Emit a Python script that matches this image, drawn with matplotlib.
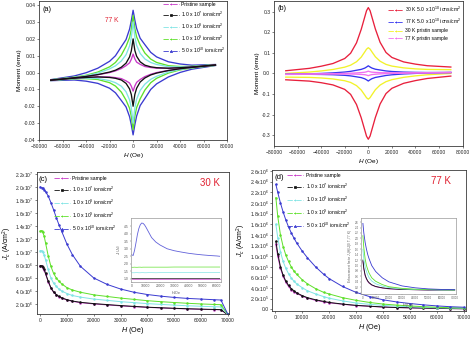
import matplotlib
matplotlib.use("Agg")
import matplotlib.pyplot as plt
from matplotlib.lines import Line2D

plt.rcParams['font.family'] = ['Liberation Sans', 'DejaVu Sans']
plt.rcParams['mathtext.fontset'] = 'custom'
plt.rcParams['mathtext.rm'] = 'Liberation Sans'
plt.rcParams['mathtext.it'] = 'Liberation Sans:italic'

# ---- hysteresis loops (a), (b) ----
H_loop = [-70000, -50000, -40000, -30000, -20000, -15000, -10000, -6000, -3000, -1500, 0,
          1500, 3000, 6000, 10000, 15000, 20000, 30000, 40000, 50000, 70000]

# 77 K
pr77_up = [-0.0045, -0.0031, -0.0023, -0.0013, 0.0000, 0.0010, 0.0024, 0.0041, 0.0058, 0.0079, 0.011,
           0.0081, 0.0062, 0.0049, 0.0036, 0.0030, 0.0026, 0.0025, 0.0029, 0.0033, 0.0045]
pr77_dn = [-0.0045, -0.0033, -0.0029, -0.0025, -0.0026, -0.0030, -0.0036, -0.0049, -0.0062, -0.0081, -0.011,
           -0.0079, -0.0058, -0.0041, -0.0024, -0.0010, 0.0000, 0.0013, 0.0023, 0.0031, 0.0045]
e7_up = [-0.0045, -0.0031, -0.0023, -0.0012, 0.0003, 0.0014, 0.0032, 0.0056, 0.0093, 0.0129, 0.020,
         0.0131, 0.0097, 0.0064, 0.0044, 0.0034, 0.0029, 0.0026, 0.0029, 0.0033, 0.0045]
e7_dn = [-0.0045, -0.0033, -0.0029, -0.0026, -0.0029, -0.0034, -0.0044, -0.0064, -0.0097, -0.0131, -0.020,
         -0.0129, -0.0093, -0.0056, -0.0032, -0.0014, -0.0003, 0.0012, 0.0023, 0.0031, 0.0045]
e8_up = [-0.0044, -0.0029, -0.0019, -0.0003, 0.0022, 0.0040, 0.0069, 0.0106, 0.0158, 0.0209, 0.030,
         0.0211, 0.0162, 0.0114, 0.0081, 0.0060, 0.0048, 0.0035, 0.0033, 0.0035, 0.0046]
e8_dn = [-0.0046, -0.0035, -0.0033, -0.0035, -0.0048, -0.0060, -0.0081, -0.0114, -0.0162, -0.0211, -0.030,
         -0.0209, -0.0158, -0.0106, -0.0069, -0.0040, -0.0022, 0.0003, 0.0019, 0.0029, 0.0044]
e9_up = [-0.0043, -0.0027, -0.0016, 0.0003, 0.0034, 0.0060, 0.0104, 0.0156, 0.0208, 0.0259, 0.034,
         0.0261, 0.0212, 0.0164, 0.0116, 0.0080, 0.0060, 0.0041, 0.0036, 0.0037, 0.0047]
e9_dn = [-0.0047, -0.0037, -0.0036, -0.0041, -0.0060, -0.0080, -0.0116, -0.0164, -0.0212, -0.0261, -0.034,
         -0.0259, -0.0208, -0.0156, -0.0104, -0.0060, -0.0034, -0.0003, 0.0016, 0.0027, 0.0043]
e10_up = [-0.0042, -0.0020, -0.0001, 0.0026, 0.0067, 0.0100, 0.0154, 0.0196, 0.0258, 0.0309, 0.037,
          0.0311, 0.0262, 0.0204, 0.0166, 0.0120, 0.0093, 0.0064, 0.0051, 0.0044, 0.0048]
e10_dn = [-0.0048, -0.0044, -0.0051, -0.0064, -0.0093, -0.0120, -0.0166, -0.0204, -0.0262, -0.0311, -0.037,
          -0.0309, -0.0258, -0.0196, -0.0154, -0.0100, -0.0067, -0.0026, 0.0001, 0.0020, 0.0042]

# 30 K
e10_30_up = [0.013, 0.0246, 0.0349, 0.0481, 0.0724, 0.0981, 0.1487, 0.2142, 0.2746, 0.3048, 0.32,
             0.3052, 0.2754, 0.2158, 0.1513, 0.1019, 0.0776, 0.0559, 0.0451, 0.0374, 0.031]
e10_30_dn = [-0.031, -0.0374, -0.0451, -0.0559, -0.0776, -0.1019, -0.1513, -0.2158, -0.2754, -0.3052, -0.32,
             -0.3048, -0.2746, -0.2142, -0.1487, -0.0981, -0.0724, -0.0481, -0.0349, -0.0246, -0.013]
pr30_up = [0.0, 0.0066, 0.0119, 0.0191, 0.0304, 0.0401, 0.0567, 0.0792, 0.1046, 0.1178, 0.125,
           0.1182, 0.1054, 0.0808, 0.0593, 0.0439, 0.0356, 0.0269, 0.0221, 0.0194, 0.018]
pr30_dn = [-0.018, -0.0194, -0.0221, -0.0269, -0.0356, -0.0439, -0.0593, -0.0808, -0.1054, -0.1182, -0.125,
           -0.1178, -0.1046, -0.0792, -0.0567, -0.0401, -0.0304, -0.0191, -0.0119, -0.0066, 0.0]

# ---- Jc(H), units of 1e6 A/cm^2 ----
H_c = [0, 500, 1000, 1500, 2000, 3000, 4000, 5000, 6000, 7000, 8000, 10000, 12000, 15000, 20000,
       25000, 30000, 35000, 40000, 45000, 50000, 55000, 60000, 65000, 67500, 70000]
jc30_pr = [7.8, 7.8, 7.6, 7.2, 6.6, 5.4, 4.4, 3.8, 3.4, 3.1, 2.9, 2.6, 2.4, 2.2, 2.0,
           1.85, 1.7, 1.58, 1.47, 1.38, 1.3, 1.23, 1.17, 1.12, 1.1, 0.35]
jc30_e7 = [7.9, 7.9, 7.7, 7.3, 6.7, 5.5, 4.5, 3.85, 3.45, 3.15, 2.95, 2.65, 2.45, 2.25, 2.05,
           1.9, 1.75, 1.62, 1.5, 1.41, 1.33, 1.26, 1.2, 1.15, 1.12, 0.35]
jc30_e8 = [10.2, 10.2, 10.0, 9.5, 8.8, 7.3, 6.0, 5.2, 4.7, 4.3, 4.0, 3.6, 3.3, 3.05, 2.75,
           2.55, 2.35, 2.2, 2.05, 1.93, 1.82, 1.72, 1.64, 1.57, 1.54, 0.4]
jc30_e9 = [13.2, 13.3, 13.0, 12.4, 11.4, 9.4, 7.8, 6.7, 6.0, 5.5, 5.1, 4.5, 4.15, 3.8, 3.4,
           3.15, 2.9, 2.7, 2.5, 2.35, 2.22, 2.1, 2.0, 1.92, 1.88, 0.45]
jc30_e10 = [20.0, 19.9, 19.8, 19.6, 19.3, 18.6, 17.6, 16.5, 15.3, 14.2, 13.2, 11.2, 9.6, 7.8, 6.0,
            5.0, 4.3, 3.8, 3.45, 3.2, 3.0, 2.85, 2.75, 2.65, 2.6, 0.5]

H_ci = [0, 1000, 2000, 3000, 4000, 5000, 6000, 7000, 8000, 9000, 10000, 12000, 14000, 17000,
        20000, 25000, 30000, 35000, 40000, 45000, 50000, 55000, 60000, 62000]
ratio_pr = [1.0, 1.0, 1.0, 1.0, 1.0, 1.0, 1.0, 1.0, 1.0, 1.0, 1.0, 1.0, 1.0, 1.0,
            1.0, 1.0, 1.0, 1.0, 1.0, 1.0, 1.0, 1.0, 1.0, 1.0]
ratio_e7 = [1.01, 1.01, 1.01, 1.01, 1.02, 1.01, 1.01, 1.01, 1.02, 1.01, 1.01, 1.01, 1.01, 1.01,
            1.01, 1.01, 1.01, 1.01, 1.01, 1.01, 1.01, 1.01, 1.01, 1.01]
ratio_e8 = [1.4, 1.4, 1.4, 1.41, 1.41, 1.4, 1.4, 1.41, 1.41, 1.4, 1.4, 1.41, 1.41, 1.4,
            1.41, 1.41, 1.41, 1.41, 1.41, 1.41, 1.42, 1.42, 1.42, 1.42]
ratio_e9 = [1.76, 1.76, 1.77, 1.76, 1.76, 1.77, 1.77, 1.76, 1.77, 1.77, 1.77, 1.77, 1.77, 1.77,
            1.77, 1.77, 1.78, 1.78, 1.78, 1.78, 1.78, 1.78, 1.78, 1.78]
ratio_e10 = [2.6, 2.55, 2.9, 3.4, 3.95, 4.35, 4.6, 4.72, 4.7, 4.6, 4.45, 4.1, 3.75, 3.45,
             3.25, 3.0, 2.87, 2.78, 2.7, 2.64, 2.59, 2.55, 2.52, 2.5]

H_d = [300, 1000, 2000, 3000, 4000, 5000, 6000, 7000, 8000, 10000, 12000, 15000, 18000, 20000,
       25000, 30000, 35000, 40000, 45000, 50000, 55000, 60000, 65000, 70000]
jc77_pr = [1.22, 1.0, 0.77, 0.62, 0.51, 0.43, 0.37, 0.33, 0.3, 0.25, 0.21, 0.17, 0.14, 0.125,
           0.095, 0.072, 0.057, 0.043, 0.034, 0.028, 0.023, 0.018, 0.014, 0.011]
jc77_e7 = [1.28, 1.05, 0.8, 0.64, 0.53, 0.45, 0.39, 0.35, 0.31, 0.26, 0.22, 0.18, 0.15, 0.13,
           0.1, 0.075, 0.06, 0.045, 0.035, 0.03, 0.025, 0.02, 0.015, 0.012]
jc77_e8 = [1.6, 1.35, 1.08, 0.9, 0.77, 0.67, 0.59, 0.53, 0.48, 0.41, 0.35, 0.29, 0.24, 0.21,
           0.16, 0.12, 0.095, 0.075, 0.06, 0.05, 0.04, 0.03, 0.025, 0.02]
jc77_e9 = [2.1, 1.75, 1.4, 1.18, 1.02, 0.9, 0.8, 0.72, 0.66, 0.56, 0.48, 0.39, 0.32, 0.29,
           0.22, 0.17, 0.13, 0.1, 0.08, 0.065, 0.05, 0.04, 0.03, 0.025]
jc77_e10 = [2.35, 2.2, 2.0, 1.83, 1.68, 1.55, 1.44, 1.34, 1.25, 1.1, 0.97, 0.8, 0.66, 0.58,
            0.43, 0.32, 0.24, 0.18, 0.14, 0.11, 0.085, 0.065, 0.05, 0.04]

H_di = [300, 1000, 2000, 3000, 4000, 5000, 7000, 10000, 15000, 20000, 30000, 40000, 50000, 60000, 70000]
enh_pr = [1.15, 0.86, 0.62, 0.5, 0.41, 0.35, 0.28, 0.22, 0.17, 0.14, 0.12, 0.11, 0.1, 0.1, 0.1]
enh_e7 = [1.2, 0.9, 0.65, 0.52, 0.43, 0.37, 0.29, 0.23, 0.18, 0.15, 0.12, 0.11, 0.1, 0.1, 0.1]
enh_e8 = [1.6, 1.25, 0.95, 0.78, 0.65, 0.55, 0.43, 0.33, 0.24, 0.19, 0.14, 0.12, 0.11, 0.1, 0.1]
enh_e9 = [2.1, 1.65, 1.25, 1.0, 0.85, 0.72, 0.55, 0.42, 0.3, 0.22, 0.16, 0.13, 0.12, 0.11, 0.1]
enh_e10 = [2.55, 2.2, 1.85, 1.6, 1.4, 1.25, 1.0, 0.78, 0.55, 0.4, 0.25, 0.18, 0.14, 0.12, 0.11]

labels_dose = ["Pristine sample", r"1.0 x 10$^{7}$ ions/cm$^{2}$", r"1.0 x 10$^{8}$ ions/cm$^{2}$",
               r"1.0 x 10$^{9}$ ions/cm$^{2}$", r"5.0 x 10$^{10}$ ions/cm$^{2}$"]
labels_b = [r"30 K 5.0 x 10$^{10}$ ions/cm$^{2}$", r"77 K 5.0 x 10$^{10}$ ions/cm$^{2}$",
            "30 K pristin sample", "77 K pristin sample"]

xt_loop = [-80000, -60000, -40000, -20000, 0, 20000, 40000, 60000, 80000]
yt_a = [-0.04, -0.03, -0.02, -0.01, 0.0, 0.01, 0.02, 0.03, 0.04]
yt_b = [-0.3, -0.2, -0.1, 0.0, 0.1, 0.2, 0.3]
xt_jc = [0, 10000, 20000, 30000, 40000, 50000, 60000, 70000]
yt_c = [2, 4, 6, 8, 10, 12, 14, 16, 18, 20, 22]
yt_c_lab = [r"2.0x10$^6$", r"4.0x10$^6$", r"6.0x10$^6$", r"8.0x10$^6$", r"1.0x10$^7$", r"1.2x10$^7$",
            r"1.4x10$^7$", r"1.6x10$^7$", r"1.8x10$^7$", r"2.0x10$^7$", r"2.2x10$^7$"]
yt_d = [0, 0.2, 0.4, 0.6, 0.8, 1.0, 1.2, 1.4, 1.6, 1.8, 2.0, 2.2, 2.4, 2.6]
yt_d_lab = ["0.0", r"2.0x10$^5$", r"4.0x10$^5$", r"6.0x10$^5$", r"8.0x10$^5$", r"1.0x10$^6$",
            r"1.2x10$^6$", r"1.4x10$^6$", r"1.6x10$^6$", r"1.8x10$^6$", r"2.0x10$^6$", r"2.2x10$^6$",
            r"2.4x10$^6$", r"2.6x10$^6$"]

col_dose = ['#c838c8', '#111111', '#80e4e4', '#5ee02a', '#3a3ad0']
mk_dose = ['+', 's', '+', '+', '^']
col_b = ['#e8203c', '#3434f0', '#f2f22a', '#f070f0']

spine_col = '#3a3a3a'
fig = plt.figure(figsize=(4.74, 3.38), dpi=100)


def style(ax, fs=3.6):
    for s in ax.spines.values():
        s.set_color(spine_col)
        s.set_linewidth(0.6)
    ax.tick_params(labelsize=fs, length=1.6, width=0.4, pad=1, colors='#222222')


def dose_handles(lw=0.6):
    return [Line2D([], [], color=c, ls='-.', lw=lw, marker=m, ms=1.6, mew=0.5)
            for c, m in zip(col_dose, mk_dose)]


# (a)
ax = fig.add_axes([0.0823, 0.586, 0.397, 0.411])
loops_a = [(e10_up, e10_dn, 4), (e9_up, e9_dn, 3), (e8_up, e8_dn, 2), (pr77_up, pr77_dn, 0), (e7_up, e7_dn, 1)]
for up, dn, k in loops_a:
    ax.plot(H_loop, up, color=col_dose[k], lw=0.95)
    ax.plot(H_loop, dn, color=col_dose[k], lw=0.95)
ax.set_xlim(-80000, 80000)
ax.set_ylim(-0.04, 0.0425)
ax.set_xticks(xt_loop)
ax.set_yticks(yt_a)
ax.set_yticklabels(["%.2f" % v for v in yt_a])
style(ax)
ax.set_xlabel(r"$H$ (Oe)", fontsize=4.6, labelpad=1.5)
ax.set_ylabel("Moment (emu)", fontsize=4.6, labelpad=1.5)
ax.text(0.02, 0.965, "(a)", transform=ax.transAxes, fontsize=5.2, va='top')
ax.text(-18000, 0.031, "77 K", color='#e02030', fontsize=4.8, ha='center', va='center')
ax.legend(dose_handles(), labels_dose, loc='upper right', bbox_to_anchor=(1.0, 1.005), frameon=False,
          fontsize=3.6, handlelength=3.2, handletextpad=0.5, labelspacing=0.55, borderpad=0.2,
          borderaxespad=0.1)

# (b)
ax = fig.add_axes([0.578, 0.568, 0.398, 0.429])
ax.plot(H_loop, e10_30_up, color=col_b[0], lw=0.95)
ax.plot(H_loop, e10_30_dn, color=col_b[0], lw=0.95)
ax.plot(H_loop, pr30_up, color=col_b[2], lw=0.95)
ax.plot(H_loop, pr30_dn, color=col_b[2], lw=0.95)
ax.plot(H_loop, e10_up, color=col_b[1], lw=0.95)
ax.plot(H_loop, e10_dn, color=col_b[1], lw=0.95)
ax.plot(H_loop, pr77_up, color=col_b[3], lw=0.95)
ax.plot(H_loop, pr77_dn, color=col_b[3], lw=0.95)
ax.set_xlim(-80000, 80000)
ax.set_ylim(-0.353, 0.352)
ax.set_xticks(xt_loop)
ax.set_yticks(yt_b)
ax.set_yticklabels(["%.1f" % v for v in yt_b])
style(ax)
ax.set_xlabel(r"$H$ (Oe)", fontsize=4.6, labelpad=1.5)
ax.set_ylabel("Moment (emu)", fontsize=4.6, labelpad=1.5)
ax.text(0.02, 0.975, "(b)", transform=ax.transAxes, fontsize=5.2, va='top')
hb = [Line2D([], [], color=c, ls='-.', lw=0.6, marker='+', ms=1.6, mew=0.5) for c in col_b]
ax.legend(hb, labels_b, loc='upper right', bbox_to_anchor=(1.0, 0.985), frameon=False,
          fontsize=3.6, handlelength=3.0, handletextpad=0.4, labelspacing=0.5, borderpad=0.2,
          borderaxespad=0.1)

# (c)
ax = fig.add_axes([0.078, 0.071, 0.405, 0.42])
curves_c = [(jc30_pr, 0), (jc30_e7, 1), (jc30_e8, 2), (jc30_e9, 3), (jc30_e10, 4)]
for ys, k in curves_c:
    ax.plot(H_c, ys, color=col_dose[k], lw=0.7, marker='.', ms=1.6)
ax.set_xlim(-1200, 70500)
ax.set_ylim(0.45, 22.3)
ax.set_xticks(xt_jc)
ax.set_yticks(yt_c)
ax.set_yticklabels(yt_c_lab)
style(ax, 3.5)
ax.set_xlabel(r"$H$ (Oe)", fontsize=5.2, labelpad=1.5)
ax.set_ylabel(r"$J_c$ (A/cm$^2$)", fontsize=5.0, labelpad=1.0)
ax.text(0.01, 0.975, "(c)", transform=ax.transAxes, fontsize=5.5, va='top')
ax.text(0.90, 0.92, "30 K", transform=ax.transAxes, fontsize=7, color='#e02030',
        ha='center', va='center')
ax.legend(dose_handles(), labels_dose, loc='upper left', bbox_to_anchor=(0.08, 0.985), frameon=False,
          fontsize=3.6, handlelength=3.2, handletextpad=0.5, labelspacing=0.75, borderpad=0.2,
          borderaxespad=0.1)

axi = fig.add_axes([0.2764, 0.1657, 0.19, 0.189])
ins_c = [(ratio_pr, 0), (ratio_e7, 1), (ratio_e8, 2), (ratio_e9, 3), (ratio_e10, 4)]
for ys, k in ins_c:
    axi.plot(H_ci, ys, color=col_dose[k], lw=0.6, alpha=0.8)
axi.set_xlim(-500, 63000)
axi.set_ylim(0.78, 5.05)
axi.set_xticks([0, 10000, 20000, 30000, 40000, 50000, 60000])
axi.set_yticks([1.0, 1.5, 2.0, 2.5, 3.0, 3.5, 4.0, 4.5])
axi.set_yticklabels(["1.0", "1.5", "2.0", "2.5", "3.0", "3.5", "4.0", "4.5"])
for s in axi.spines.values():
    s.set_color('#999999')
    s.set_linewidth(0.5)
axi.tick_params(labelsize=2.4, length=1, width=0.3, pad=0.6, colors='#555555')
axi.set_xlabel(r"$H$/Oe", fontsize=2.6, labelpad=0.8, color='#555555')
axi.set_ylabel(r"$J_c$/$J_{c0}$", fontsize=2.6, labelpad=0.8, color='#555555')

# (d)
ax = fig.add_axes([0.574, 0.080, 0.410, 0.417])
curves_d = [(jc77_pr, 0), (jc77_e7, 1), (jc77_e8, 2), (jc77_e9, 3), (jc77_e10, 4)]
for ys, k in curves_d:
    ax.plot(H_d, ys, color=col_dose[k], lw=0.7, marker='.', ms=1.6)
ax.set_xlim(-1100, 70900)
ax.set_ylim(-0.03, 2.62)
ax.set_xticks(xt_jc)
ax.set_yticks(yt_d)
ax.set_yticklabels(yt_d_lab)
style(ax, 3.6)
ax.set_xlabel(r"$H$ (Oe)", fontsize=5.2, labelpad=1.5)
ax.set_ylabel(r"$J_c$ (A/cm$^2$)", fontsize=5.0, labelpad=1.0)
ax.text(0.01, 0.975, "(d)", transform=ax.transAxes, fontsize=5.5, va='top')
ax.text(0.87, 0.92, "77 K", transform=ax.transAxes, fontsize=7, color='#e02030',
        ha='center', va='center')
ax.legend(dose_handles(), labels_dose, loc='upper left', bbox_to_anchor=(0.07, 0.99), frameon=False,
          fontsize=3.6, handlelength=3.2, handletextpad=0.5, labelspacing=0.75, borderpad=0.2,
          borderaxespad=0.1)

axi = fig.add_axes([0.762, 0.130, 0.2, 0.225])
ins_d = [(enh_pr, 0), (enh_e7, 1), (enh_e8, 2), (enh_e9, 3), (enh_e10, 4)]
for ys, k in ins_d:
    axi.plot(H_di, ys, color=col_dose[k], lw=0.6)
axi.set_xlim(-1000, 71000)
axi.set_ylim(-0.05, 2.75)
axi.set_xticks(xt_jc)
axi.set_yticks([0, 0.2, 0.4, 0.6, 0.8, 1.0, 1.2, 1.4, 1.6, 1.8, 2.0, 2.2, 2.4, 2.6])
axi.set_yticklabels(["0.0", "0.2", "0.4", "0.6", "0.8", "1.0", "1.2", "1.4", "1.6", "1.8",
                     "2.0", "2.2", "2.4", "2.6"])
for s in axi.spines.values():
    s.set_color('#999999')
    s.set_linewidth(0.5)
axi.tick_params(labelsize=2.0, length=1, width=0.3, pad=0.6, colors='#555555')
axi.set_xlabel(r"$H$ (Oe)", fontsize=2.6, labelpad=0.8, color='#555555')
axi.set_ylabel(r"Enhancement factor $J_c$(H)/$J_c$(0 T, 77 K)", fontsize=2.2, labelpad=0.8,
               color='#555555')

fig.savefig("out.png", dpi=100, facecolor='white')
